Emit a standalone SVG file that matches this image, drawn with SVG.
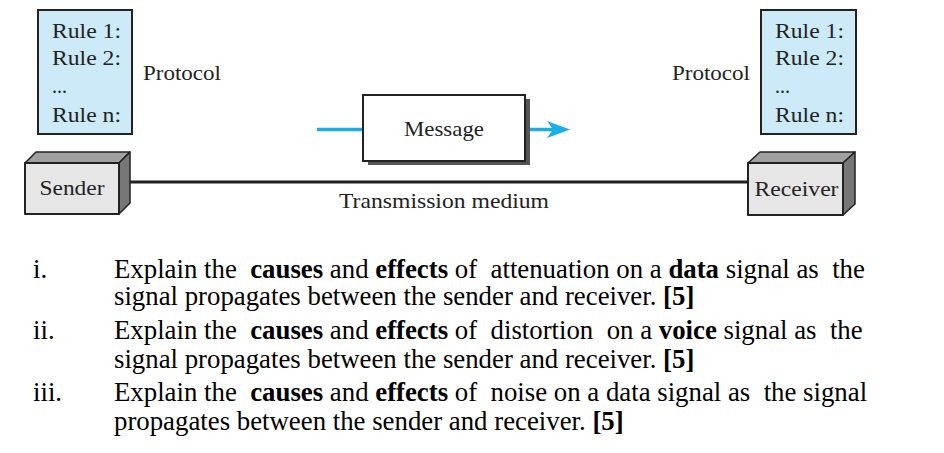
<svg xmlns="http://www.w3.org/2000/svg" width="944" height="453" viewBox="0 0 944 453">
<style>
.lbl{font-family:"Liberation Serif","Times New Roman",serif;fill:#222;}
.rules{fill:#cdeaf9;stroke:#222;stroke-width:2;}
.front{fill:#e6e6e6;stroke:#222;stroke-width:2;stroke-linejoin:round;}
.top{fill:#a0a0a0;stroke:#222;stroke-width:1.5;stroke-linejoin:round;}
.side{fill:#777;stroke:#222;stroke-width:1.5;stroke-linejoin:round;}
.body{font-family:"Liberation Serif","Times New Roman",serif;font-size:26.8px;fill:#000;white-space:pre;}
.b{font-weight:bold;}
</style>
<g id="connectors">
<line x1="124" y1="182" x2="748" y2="182" stroke="#222" stroke-width="3"/>
<line x1="317" y1="129.5" x2="363" y2="129.5" stroke="#19aee8" stroke-width="3.5"/>
<line x1="525" y1="129.5" x2="560" y2="129.5" stroke="#19aee8" stroke-width="3.5"/>
<path d="M547,121 L570,129.5 L547,138 L553,129.5 Z" fill="#19aee8"/>
<text class="lbl" x="444" y="208" font-size="21" text-anchor="middle" textLength="210" lengthAdjust="spacingAndGlyphs">Transmission medium</text>
</g>
<g id="sender-protocol">
<rect class="rules" x="38" y="10" width="94" height="124"/>
<text class="lbl" x="52" y="38" font-size="20" textLength="69" lengthAdjust="spacingAndGlyphs">Rule 1:</text>
<text class="lbl" x="52" y="65" font-size="20" textLength="69" lengthAdjust="spacingAndGlyphs">Rule 2:</text>
<text class="lbl" x="52" y="93" font-size="20">...</text>
<text class="lbl" x="52" y="122" font-size="20" textLength="69" lengthAdjust="spacingAndGlyphs">Rule n:</text>
<text class="lbl" x="143" y="80" font-size="20" textLength="78" lengthAdjust="spacingAndGlyphs">Protocol</text>
</g>
<g id="receiver-protocol">
<rect class="rules" x="761" y="10" width="95" height="124"/>
<text class="lbl" x="775" y="38" font-size="20" textLength="69" lengthAdjust="spacingAndGlyphs">Rule 1:</text>
<text class="lbl" x="775" y="65" font-size="20" textLength="69" lengthAdjust="spacingAndGlyphs">Rule 2:</text>
<text class="lbl" x="775" y="93" font-size="20">...</text>
<text class="lbl" x="775" y="122" font-size="20" textLength="69" lengthAdjust="spacingAndGlyphs">Rule n:</text>
<text class="lbl" x="672" y="80" font-size="20" textLength="78" lengthAdjust="spacingAndGlyphs">Protocol</text>
</g>
<g id="sender">
<path class="top" d="M25,163 L36,152 L130,152 L119,163 Z"/>
<path class="side" d="M119,163 L130,152 L130,203 L119,214 Z"/>
<rect class="front" x="25" y="163" width="94" height="51"/>
<text class="lbl" x="72" y="195" font-size="21" text-anchor="middle" textLength="65" lengthAdjust="spacingAndGlyphs">Sender</text>
</g>
<g id="receiver">
<path class="top" d="M748,163 L760,152 L855,152 L843,163 Z"/>
<path class="side" d="M843,163 L855,152 L855,204 L843,215 Z"/>
<rect class="front" x="748" y="163" width="95" height="52"/>
<text class="lbl" x="796.5" y="196" font-size="21" text-anchor="middle" textLength="84" lengthAdjust="spacingAndGlyphs">Receiver</text>
</g>
<g id="message">
<rect x="368" y="99" width="162" height="66" fill="#555"/>
<rect x="363" y="95" width="162" height="66" fill="#fff" stroke="#222" stroke-width="2"/>
<text class="lbl" x="444" y="136" font-size="22" text-anchor="middle" textLength="80" lengthAdjust="spacingAndGlyphs">Message</text>
</g>
<g id="questions">
<text class="body" x="33" y="278">i.</text>
<text class="body" x="114" y="278">Explain the  <tspan class="b">causes</tspan> and <tspan class="b">effects</tspan> of  attenuation on a <tspan class="b">data</tspan> signal as  the</text>
<text class="body" x="114" y="305">signal propagates between the sender and receiver. <tspan class="b">[5]</tspan></text>
<text class="body" x="33" y="339">ii.</text>
<text class="body" x="114" y="339">Explain the  <tspan class="b">causes</tspan> and <tspan class="b">effects</tspan> of  distortion  on a <tspan class="b">voice</tspan> signal as  the</text>
<text class="body" x="114" y="368">signal propagates between the sender and receiver. <tspan class="b">[5]</tspan></text>
<text class="body" x="33" y="401">iii.</text>
<text class="body" x="114" y="401">Explain the  <tspan class="b">causes</tspan> and <tspan class="b">effects</tspan> of  noise on a data signal as  the signal</text>
<text class="body" x="114" y="430">propagates between the sender and receiver. <tspan class="b">[5]</tspan></text>
</g>
</svg>
